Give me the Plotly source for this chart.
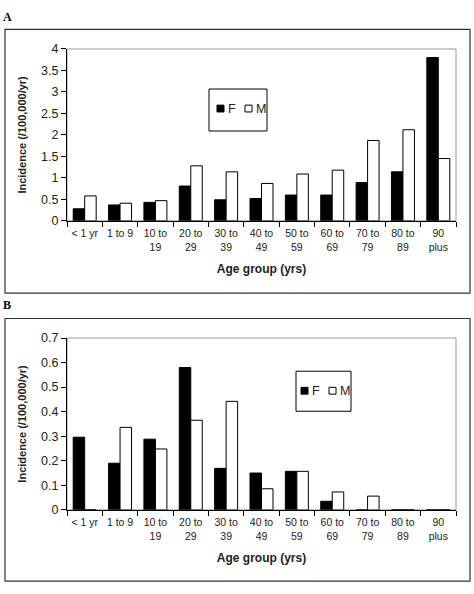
import plotly.graph_objects as go

# data
age_groups = ["< 1 yr", "1 to 9", "10 to<br>19", "20 to<br>29", "30 to<br>39", "40 to<br>49",
              "50 to<br>59", "60 to<br>69", "70 to<br>79", "80 to<br>89", "90<br>plus"]
a_female = [0.28, 0.37, 0.43, 0.81, 0.49, 0.52, 0.60, 0.60, 0.89, 1.14, 3.80]
a_male = [0.58, 0.41, 0.47, 1.28, 1.14, 0.87, 1.09, 1.18, 1.87, 2.12, 1.45]
b_female = [0.296, 0.19, 0.288, 0.58, 0.169, 0.15, 0.157, 0.035, 0, 0, 0]
b_male = [0, 0.336, 0.248, 0.365, 0.442, 0.086, 0.157, 0.073, 0.056, 0, 0]
series_names = ["F", "M"]

W, H = 474, 594
px = lambda v: v / W
py = lambda v: 1 - v / H
font = "Liberation Sans, Arial, sans-serif"

fig = go.Figure()
for xa, ya, fem, mal in [("x", "y", a_female, a_male), ("x2", "y2", b_female, b_male)]:
    fig.add_trace(go.Bar(x=age_groups, y=fem, name=series_names[0], xaxis=xa, yaxis=ya,
                         marker=dict(color="black", line=dict(color="black", width=1))))
    fig.add_trace(go.Bar(x=age_groups, y=mal, name=series_names[1], xaxis=xa, yaxis=ya,
                         marker=dict(color="white", line=dict(color="black", width=1))))

xax = dict(domain=[px(67), px(456)], tickson="boundaries", ticks="outside", ticklen=5, tickcolor="black",
           showline=True, linecolor="black", linewidth=1, showgrid=False, ticklabelstandoff=3, tickangle=0,
           tickfont=dict(family=font, size=10.5, color="#222"),
           title=dict(text="<b>Age group (yrs)</b>", font=dict(family=font, size=12, color="#222"), standoff=12))
yax = dict(ticks="outside", ticklen=5, tickcolor="black", showline=True, linecolor="black", linewidth=1,
           showgrid=False, zeroline=False, tickfont=dict(family=font, size=12.5, color="#222"),
           title=dict(text="<b>Incidence (/100,000/yr)</b>", font=dict(family=font, size=11, color="#222"), standoff=12))

fig.update_layout(
    width=W, height=H, margin=dict(l=0, r=0, t=0, b=0),
    paper_bgcolor="white", plot_bgcolor="white",
    barmode="group", bargap=0.35, bargroupgap=0, showlegend=False,
    xaxis=dict(xax, anchor="y"),
    yaxis=dict(yax, domain=[py(219), py(43)], range=[0, 4], dtick=0.5, anchor="x"),
    xaxis2=dict(xax, anchor="y2"),
    yaxis2=dict(yax, domain=[py(515), py(339)], range=[0, 0.7], dtick=0.1, anchor="x2"),
)

# panel frames, plot area borders
shapes = []
for top, bot in [(23, 293), (319, 588)]:
    shapes.append(dict(type="rect", xref="paper", yref="paper", x0=px(5), x1=px(470), y0=py(bot), y1=py(top),
                       line=dict(color="#333", width=1.2), layer="below"))
for xr, yr in [("x", "y"), ("x2", "y2")]:
    shapes.append(dict(type="rect", xref=xr + " domain", yref=yr + " domain", x0=0, x1=1, y0=0, y1=1,
                       line=dict(color="#999", width=1), layer="below"))

# legend boxes (Excel style): box, swatches, labels
legends = [
    # box x0, x1, y0, y1, swatch F x, swatch M x, swatch y-centre
    (209, 267, 84, 127, 217, 245, 104),
    (296, 351, 373, 414, 301, 329, 393),
]
for bx0, bx1, by0, by1, fx, mx, cy in legends:
    shapes.append(dict(type="rect", xref="paper", yref="paper", x0=px(bx0), x1=px(bx1), y0=py(by1), y1=py(by0),
                       line=dict(color="black", width=1), fillcolor="white", layer="below"))
    for sx, fill in [(fx, "black"), (mx, "white")]:
        shapes.append(dict(type="rect", xref="paper", yref="paper", x0=px(sx), x1=px(sx + 7),
                           y0=py(cy + 3.5), y1=py(cy - 3.5), line=dict(color="black", width=1), fillcolor=fill))
    for sx, name in [(fx, series_names[0]), (mx, series_names[1])]:
        fig.add_annotation(text=name, xref="paper", yref="paper", x=px(sx + 8.5), y=py(cy), xanchor="left",
                           yanchor="middle", showarrow=False, font=dict(family=font, size=12.5, color="#222"))
fig.update_layout(shapes=shapes)

for label, y in [("A", 10), ("B", 305)]:
    fig.add_annotation(text="<b>" + label + "</b>", xref="paper", yref="paper", x=px(1), y=py(y),
                       xanchor="left", yanchor="middle", showarrow=False,
                       font=dict(family="Liberation Serif, Times New Roman, serif", size=12, color="black"))

fig.write_html("out.html", config={"displayModeBar": False},
               post_script="document.body.style.margin='0';document.body.style.overflow='hidden';"
                           "document.documentElement.style.overflow='hidden';")
